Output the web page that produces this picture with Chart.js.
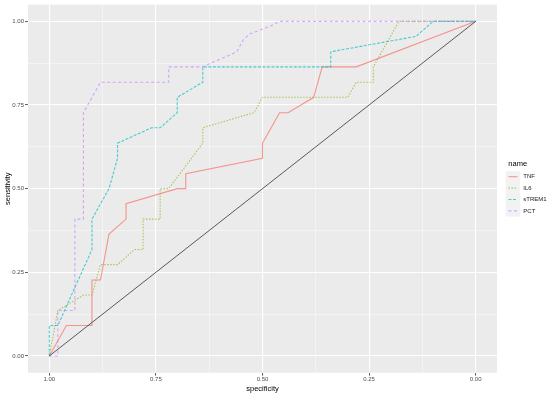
<!DOCTYPE html>
<html><head><meta charset="utf-8">
<script src="https://cdn.jsdelivr.net/npm/chart.js@4.4.1/dist/chart.umd.min.js"></script>
<style>html,body{margin:0;padding:0;background:#fff;}#wrap{width:554px;height:395px;}</style>
</head><body><div id="wrap"><canvas id="c" width="554" height="395"></canvas></div>
<script>
// ---- data ----
const seriesNames = ['TNF', 'IL6', 'sTREM1', 'PCT'];

const tnfSpec = [1.00, 0.96, 0.90, 0.90, 0.88, 0.86, 0.82, 0.82, 0.70, 0.68, 0.68, 0.50, 0.50, 0.46, 0.44, 0.38, 0.36, 0.28, 0.00];
const tnfSens = [0.000, 0.091, 0.091, 0.227, 0.227, 0.364, 0.409, 0.455, 0.500, 0.500, 0.545, 0.591, 0.636, 0.727, 0.727, 0.773, 0.864, 0.864, 1.000];

const il6Spec = [1.00, 0.98, 0.92, 0.90, 0.88, 0.84, 0.80, 0.78, 0.78, 0.74, 0.74, 0.72, 0.64, 0.64, 0.52, 0.50, 0.30, 0.28, 0.24, 0.24, 0.18, 0.00];
const il6Sens = [0.000, 0.136, 0.182, 0.182, 0.273, 0.273, 0.318, 0.318, 0.409, 0.409, 0.500, 0.500, 0.636, 0.682, 0.727, 0.773, 0.773, 0.818, 0.818, 0.864, 1.000, 1.000];

const strem1Spec = [1.00, 1.00, 0.98, 0.94, 0.90, 0.90, 0.86, 0.84, 0.84, 0.76, 0.74, 0.70, 0.70, 0.64, 0.64, 0.34, 0.34, 0.14, 0.10, 0.00];
const strem1Sens = [0.000, 0.091, 0.091, 0.205, 0.318, 0.409, 0.500, 0.591, 0.636, 0.682, 0.682, 0.727, 0.773, 0.818, 0.864, 0.864, 0.909, 0.955, 1.000, 1.000];

const pctSpec = [1.00, 0.98, 0.98, 0.94, 0.94, 0.92, 0.92, 0.88, 0.72, 0.72, 0.64, 0.56, 0.545, 0.53, 0.48, 0.46, 0.00];
const pctSens = [0.000, 0.000, 0.136, 0.136, 0.409, 0.409, 0.727, 0.818, 0.818, 0.864, 0.864, 0.909, 0.945, 0.962, 0.987, 1.000, 1.000];

const diagSpec = [1.00, 0.00];
const diagSens = [0.00, 1.00];

const majorTicks = [0, 0.25, 0.5, 0.75, 1];
const minorTicks = [0.125, 0.375, 0.625, 0.875];
const tickLabels = ['0.00', '0.25', '0.50', '0.75', '1.00'];

// ---- styles ----
const colors = ['rgba(248,118,109,0.75)', 'rgba(124,174,0,0.6)', 'rgba(0,191,196,0.7)', 'rgba(199,124,255,0.65)'];
const dashes = [[], [1.5, 1.5], [3, 1.5], [3, 2.5]];
const FONT = "'Liberation Sans', Arial, sans-serif";

function pts(xs, ys) { return xs.map((x, i) => ({ x: x, y: ys[i] })); }
const specs = [tnfSpec, il6Spec, strem1Spec, pctSpec];
const senss = [tnfSens, il6Sens, strem1Sens, pctSens];

const datasets = seriesNames.map((n, i) => ({
  label: n,
  data: pts(specs[i], senss[i]),
  showLine: true,
  borderColor: colors[i],
  borderWidth: 1.1,
  borderDash: dashes[i],
  pointRadius: 0,
  tension: 0,
  fill: false,
  order: 4 - i
}));
datasets.push({
  label: 'diag', data: pts(diagSpec, diagSens), showLine: true,
  borderColor: '#333', borderWidth: 0.8, pointRadius: 0, order: 0
});

const isMajor = v => majorTicks.indexOf(v) >= 0;
const allTicks = majorTicks.concat(minorTicks).sort((a, b) => a - b);

function gridOpts() {
  return {
    color: c => isMajor(c.tick && c.tick.value) ? '#FFFFFF' : 'rgba(255,255,255,0.75)',
    lineWidth: c => isMajor(c.tick && c.tick.value) ? 1.1 : 0.55,
    tickColor: c => isMajor(c.tick && c.tick.value) ? '#333333' : 'rgba(0,0,0,0)',
    tickWidth: 0.8,
    tickLength: 3,
    drawTicks: true
  };
}

const decor = {
  id: 'decor',
  beforeDraw(chart) {
    const a = chart.chartArea, ctx = chart.ctx;
    ctx.save();
    ctx.fillStyle = '#EBEBEB';
    ctx.fillRect(a.left, a.top, a.right - a.left, a.bottom - a.top);
    ctx.restore();
  },
  afterDraw(chart) {
    const a = chart.chartArea, ctx = chart.ctx;
    ctx.save();
    ctx.fillStyle = '#000';
    ctx.font = '7.5px ' + FONT;
    ctx.textAlign = 'center';
    ctx.textBaseline = 'middle';
    ctx.fillText('specificity', (a.left + a.right) / 2, 388.5);
    ctx.save();
    ctx.translate(7.5, (a.top + a.bottom) / 2);
    ctx.rotate(-Math.PI / 2);
    ctx.fillText('sensitivity', 0, 0);
    ctx.restore();
    // legend
    ctx.textAlign = 'left';
    ctx.fillText('name', 508.3, 164.3);
    const rowH = 11.4, top0 = 171;
    ctx.fillStyle = '#F2F2F2';
    ctx.fillRect(505.7, top0, 14.5, rowH * 4);
    for (let i = 0; i < seriesNames.length; i++) {
      const cy = top0 + rowH * i + rowH / 2;
      ctx.beginPath();
      ctx.setLineDash(dashes[i]);
      ctx.strokeStyle = colors[i];
      ctx.lineWidth = 1.1;
      ctx.moveTo(508.5, cy);
      ctx.lineTo(517.5, cy);
      ctx.stroke();
      ctx.setLineDash([]);
      ctx.fillStyle = '#1A1A1A';
      ctx.font = '6px ' + FONT;
      ctx.fillText(seriesNames[i], 523.3, cy);
    }
    ctx.restore();
  }
};

new Chart(document.getElementById('c'), {
  type: 'scatter',
  data: { datasets: datasets },
  options: {
    responsive: false,
    animation: false,
    devicePixelRatio: 1,
    layout: { padding: { top: 3.3, right: 57, left: 0, bottom: 0 } },
    plugins: { legend: { display: false }, tooltip: { enabled: false } },
    scales: {
      x: {
        type: 'linear', reverse: true, min: -0.05, max: 1.05,
        afterBuildTicks: s => { s.ticks = allTicks.map(v => ({ value: v })); },
        afterFit: s => { s.height = 22.3; },
        grid: gridOpts(),
        border: { display: false },
        ticks: {
          autoSkip: false, maxRotation: 0, padding: 0.5,
          color: '#4D4D4D', font: { family: FONT, size: 6 },
          callback: v => { const i = majorTicks.indexOf(v); return i >= 0 ? tickLabels[i] : ''; }
        }
      },
      y: {
        type: 'linear', min: -0.05, max: 1.05,
        afterBuildTicks: s => { s.ticks = allTicks.map(v => ({ value: v })); },
        afterFit: s => { s.width = 28; },
        grid: gridOpts(),
        border: { display: false },
        ticks: {
          autoSkip: false, padding: 1,
          color: '#4D4D4D', font: { family: FONT, size: 6 },
          callback: v => { const i = majorTicks.indexOf(v); return i >= 0 ? tickLabels[i] : ''; }
        }
      }
    }
  },
  plugins: [decor]
});
</script>
</body></html>
